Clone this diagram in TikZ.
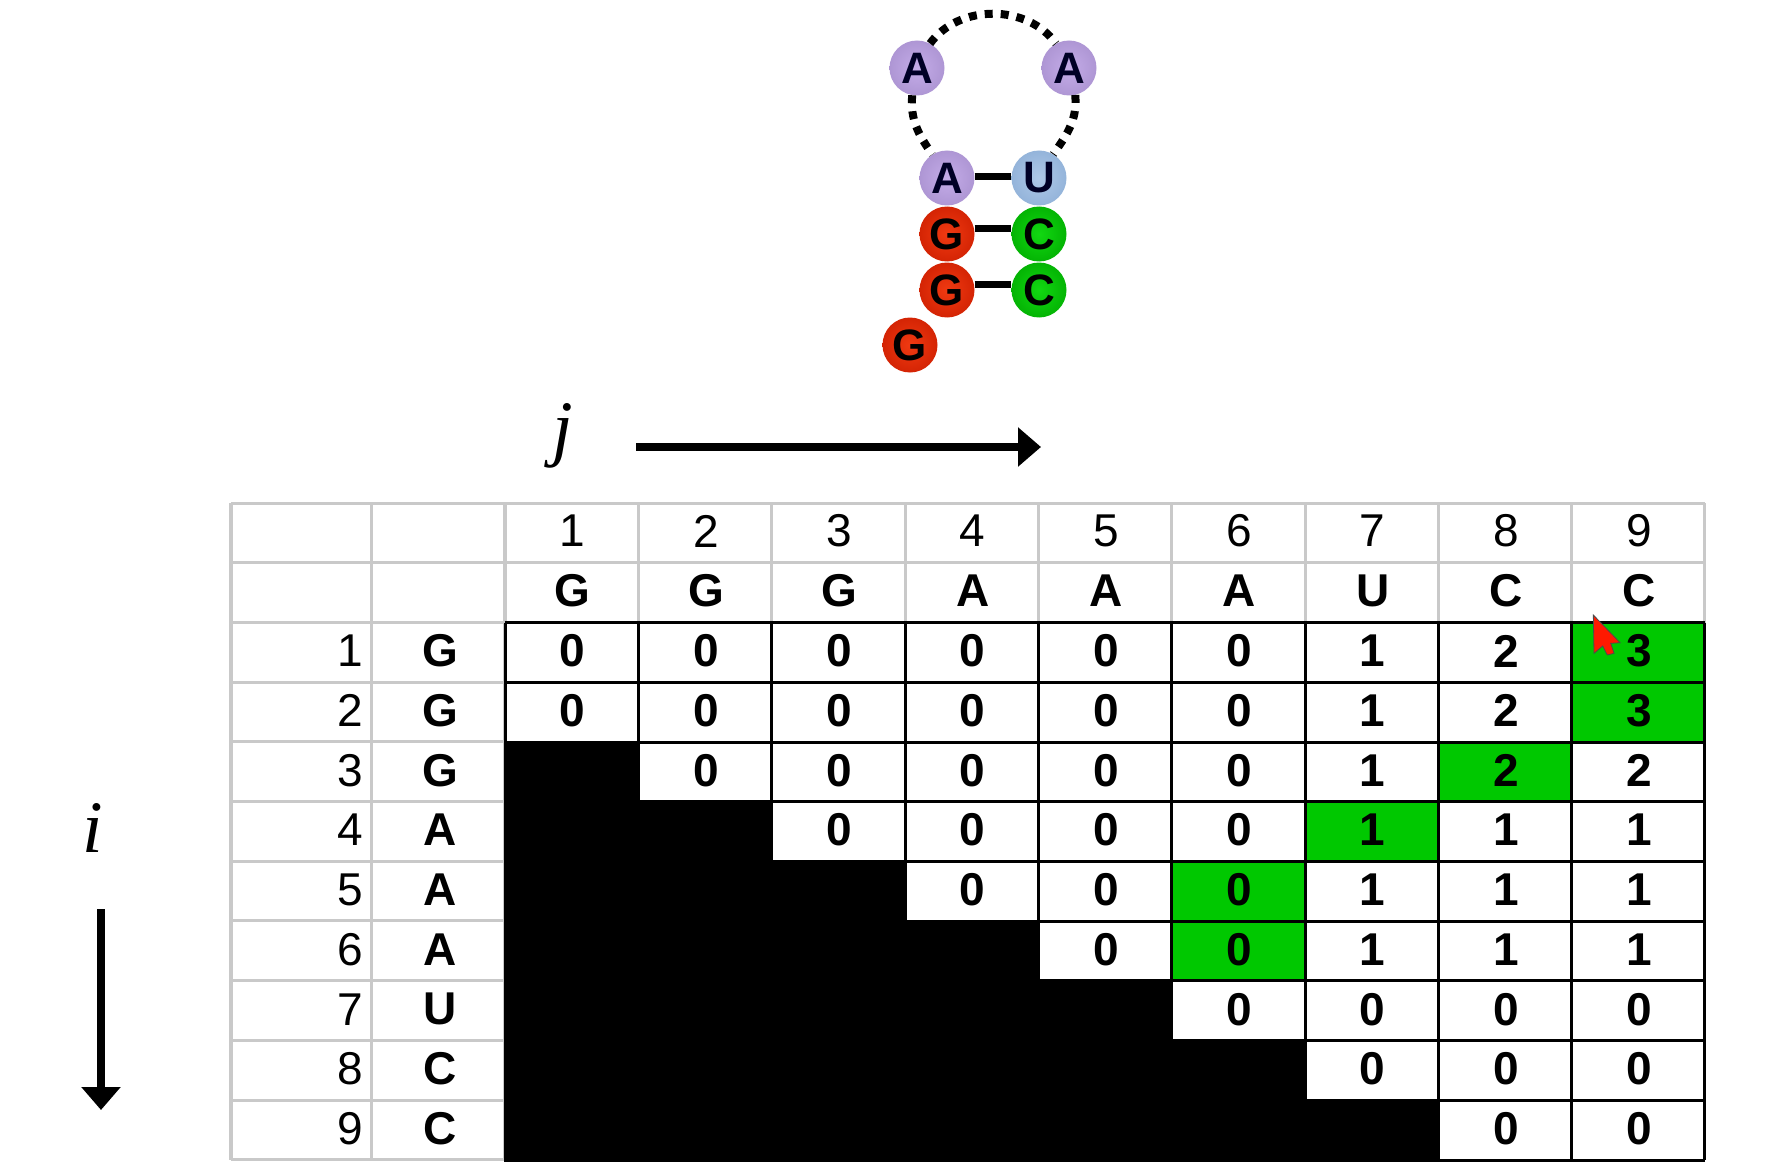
\documentclass[tikz,border=0pt]{standalone}
\usepackage{fontspec}
\setmainfont{Liberation Sans}
\newfontfamily\mathserif{Liberation Serif}
\usetikzlibrary{arrows.meta,positioning,calc}
\definecolor{gridgrey}{HTML}{C9C9C9}
\definecolor{cellgreen}{HTML}{00C800}
\definecolor{purpleA}{HTML}{C4ACE8}
\definecolor{purpleB}{HTML}{AE96D4}
\definecolor{blueA}{HTML}{AEC8E8}
\definecolor{blueB}{HTML}{94B4DA}
\definecolor{redA}{HTML}{F03A12}
\definecolor{redB}{HTML}{D42404}
\definecolor{greenA}{HTML}{12D812}
\definecolor{greenB}{HTML}{04B404}
\tikzset{
  base/.style={circle, minimum size=55pt, inner sep=0pt, font=\fontsize{44}{48}\bfseries\selectfont},
  baseA/.style={base, inner color=purpleA, outer color=purpleB, text=black!85!blue},
  baseU/.style={base, inner color=blueA, outer color=blueB, text=black!85!blue},
  baseG/.style={base, inner color=redA, outer color=redB},
  baseC/.style={base, inner color=greenA, outer color=greenB},
  pair/.style={line width=7pt},
  loopdots/.style={line width=8pt, dash pattern=on 8pt off 8pt},
  axis/.style={line width=7.5pt, -{Triangle[length=23pt,width=38pt]}},
  headnum/.style={font=\fontsize{46}{50}\selectfont},
  headlet/.style={font=\fontsize{46}{50}\bfseries\selectfont},
  cell/.style={font=\fontsize{46}{50}\bfseries\selectfont},
  axislabel/.style={font=\fontsize{74}{78}\mathserif\itshape\selectfont}
}
\begin{document}
\begin{tikzpicture}[x=1pt, y=-1pt]
  \useasboundingbox (0,0) rectangle (1776,1174);

  \node (a1) [baseA] at (917,68) {A};
  \node (a2) [baseA] at (1069,68) {A};
  \node (a3) [baseA] at (947,178) {A};
  \node (u1) [baseU] at (1039,178) {U};
  \node (g2) [baseG] at (947,234) {G};
  \node (c2) [baseC] at (1039,234) {C};
  \node (g3) [baseG] at (947,290) {G};
  \node (c3) [baseC] at (1039,290) {C};
  \node (g4) [baseG] at (910,345) {G};

  \path [loopdots]
  (a1.62) edge [out=54, in=126] (a2.118)
  (a1.260) edge [out=-95, in=125] (a3.122)
  (a2.283) edge [out=-85, in=55] (u1.59);
  \path [pair]
  ([yshift=1pt]a3.east) edge ([yshift=1pt]u1.west)
  ([yshift=5pt]g2.east) edge ([yshift=5pt]c2.west)
  ([yshift=6pt]g3.east) edge ([yshift=6pt]c3.west);

  \node (jlabel) [axislabel] at (563,436) {j};
  \coordinate (jstart) at (636,447);
  \coordinate (jend) at (1041,447);
  \draw [axis] (jstart) -- (jend);
  \node (ilabel) [axislabel] at (93,828) {i};
  \coordinate (istart) at (101,909);
  \coordinate (iend) at (101,1110);
  \draw [axis] (istart) -- (iend);

  \foreach \i/\j in {1/9,2/9,3/8,4/7,5/6,6/6}
    \fill [cellgreen] ({505+133.33*(\j-1)},{622.7+59.7*(\i-1)}) rectangle ({505+133.33*\j},{622.7+59.7*\i});

  \foreach \k in {0,...,11}
    \draw [gridgrey, line width=3pt] (231,{503+59.7*\k}) -- (505,{503+59.7*\k});
  \foreach \k in {0,1}
    \draw [gridgrey, line width=3pt] (505,{503+59.7*\k}) -- (1705,{503+59.7*\k});
  \foreach \x in {231,371.5,505}
    \draw [gridgrey, line width=3.5pt] (\x,503) -- (\x,1160);
  \foreach \k in {1,...,9}
    \draw [gridgrey, line width=3pt] ({505+133.33*\k},503) -- ({505+133.33*\k},622.7);

  \foreach \k in {0,...,9}
    \draw [black, line width=3pt] (505,{622.7+59.7*\k}) -- (1705,{622.7+59.7*\k});
  \foreach \k in {0,...,9}
    \draw [black, line width=3pt] ({505+133.33*\k},622.7) -- ({505+133.33*\k},1160);

  \foreach \i/\last in {3/1,4/2,5/3,6/4,7/5,8/6,9/7}
    \fill [black] (503.5,{622.7+59.7*(\i-1)}) rectangle ({505+133.33*\last},{622.7+59.7*\i+1.5});

  \foreach \j/\b in {1/G,2/G,3/G,4/A,5/A,6/A,7/U,8/C,9/C} {
    \node (num\j) [headnum] at ({572.7+133.33*(\j-1)},531) {\j};
    \node (top\j) [headlet] at ({572.7+133.33*(\j-1)},591) {\b};
    \node (idx\j) [headnum, anchor=east] at (367,{651+59.7*(\j-1)}) {\j};
    \node (lft\j) [headlet] at (440,{651+59.7*(\j-1)}) {\b};
  }

  \foreach \i/\first/\vals in {1/1/{0,0,0,0,0,0,1,2,3},
                               2/1/{0,0,0,0,0,0,1,2,3},
                               3/2/{0,0,0,0,0,1,2,2},
                               4/3/{0,0,0,0,1,1,1},
                               5/4/{0,0,0,1,1,1},
                               6/5/{0,0,1,1,1},
                               7/6/{0,0,0,0},
                               8/7/{0,0,0},
                               9/8/{0,0}}
    \foreach \v [count=\j from \first] in \vals
      \node (m\i-\j) [cell] at ({572.7+133.33*(\j-1)},{651+59.7*(\i-1)}) {\v};

  \fill [red!90!yellow, draw=black!70, line width=0.8pt] (1593.3,615) -- (1620,642.7) -- (1610.7,643.3) -- (1614,653.3)
    -- (1607.3,655) -- (1602.7,646) -- (1594,653.3) -- cycle;
\end{tikzpicture}
\end{document}
